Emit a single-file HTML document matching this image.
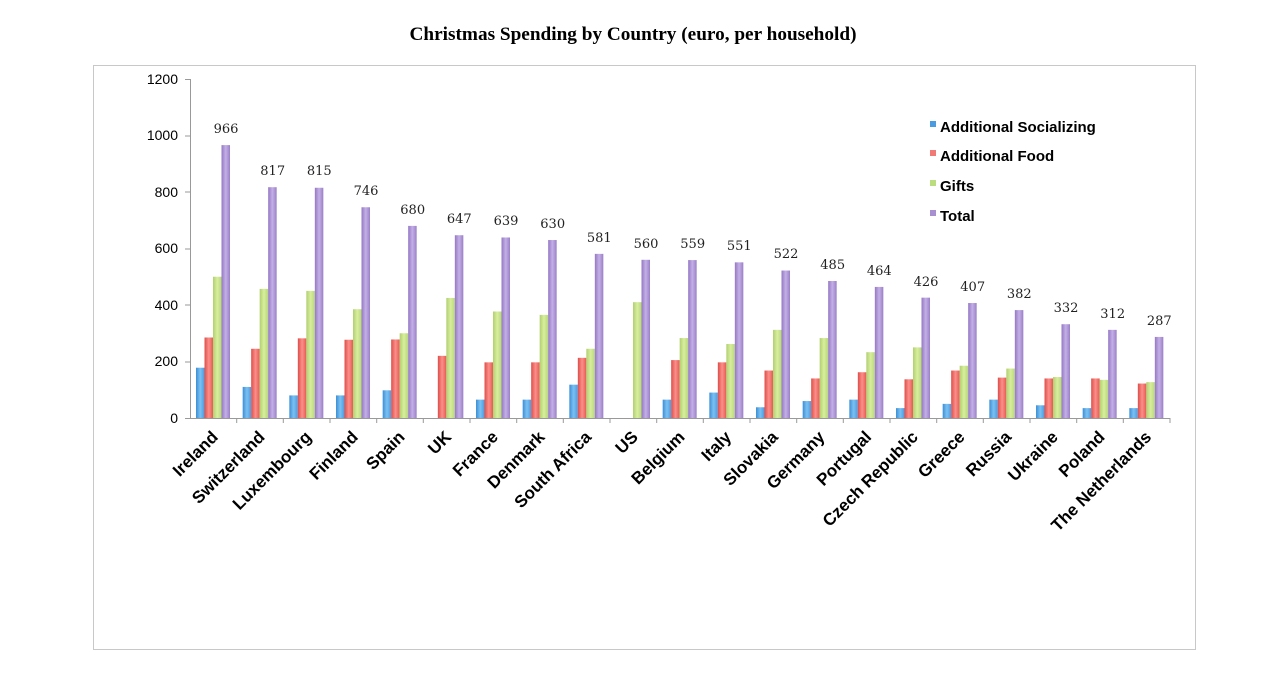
<!DOCTYPE html>
<html><head><meta charset="utf-8"><style>body{margin:0;background:#fff;}svg{display:block}</style></head>
<body>
<svg width="1288" height="675" viewBox="0 0 1288 675" xmlns="http://www.w3.org/2000/svg">
<defs>
<linearGradient id="gb" x1="0" x2="1" y1="0" y2="0"><stop offset="0" stop-color="#3d8fd6"/><stop offset="0.5" stop-color="#7cc0f2"/><stop offset="1" stop-color="#4a9be0"/></linearGradient>
<linearGradient id="gr" x1="0" x2="1" y1="0" y2="0"><stop offset="0" stop-color="#e04c48"/><stop offset="0.5" stop-color="#fa8f8a"/><stop offset="1" stop-color="#e85a55"/></linearGradient>
<linearGradient id="gg" x1="0" x2="1" y1="0" y2="0"><stop offset="0" stop-color="#b0d070"/><stop offset="0.5" stop-color="#d8ee9e"/><stop offset="1" stop-color="#b8d87a"/></linearGradient>
<linearGradient id="gp" x1="0" x2="1" y1="0" y2="0"><stop offset="0" stop-color="#9478c4"/><stop offset="0.5" stop-color="#c4afe6"/><stop offset="1" stop-color="#9a80c8"/></linearGradient>
</defs>
<text x="633" y="40" text-anchor="middle" font-family="Liberation Serif, serif" font-weight="bold" font-size="19" textLength="447" lengthAdjust="spacingAndGlyphs">Christmas Spending by Country (euro, per household)</text>
<rect x="93.5" y="65.5" width="1102" height="584" fill="none" stroke="#c8c8c8"/>
<g font-family="Liberation Sans, sans-serif" font-size="14" text-anchor="end">
<text x="178" y="423">0</text><text x="178" y="366">200</text><text x="178" y="310">400</text><text x="178" y="253">600</text><text x="178" y="197">800</text><text x="178" y="140">1000</text><text x="178" y="84">1200</text>
</g>
<g stroke="#999" stroke-width="1">
<line x1="190.5" y1="79" x2="190.5" y2="418"/>
<line x1="190" y1="418.5" x2="1170" y2="418.5"/>
<line x1="185" y1="418.5" x2="190" y2="418.5"/><line x1="185" y1="362" x2="190" y2="362"/><line x1="185" y1="305" x2="190" y2="305"/><line x1="185" y1="249" x2="190" y2="249"/><line x1="185" y1="192" x2="190" y2="192"/><line x1="185" y1="136" x2="190" y2="136"/><line x1="185" y1="79.5" x2="190" y2="79.5"/>
<line x1="236.7" y1="418" x2="236.7" y2="423"/><line x1="283.3" y1="418" x2="283.3" y2="423"/><line x1="330" y1="418" x2="330" y2="423"/><line x1="376.7" y1="418" x2="376.7" y2="423"/><line x1="423.3" y1="418" x2="423.3" y2="423"/><line x1="470" y1="418" x2="470" y2="423"/><line x1="516.7" y1="418" x2="516.7" y2="423"/><line x1="563.3" y1="418" x2="563.3" y2="423"/><line x1="610" y1="418" x2="610" y2="423"/><line x1="656.7" y1="418" x2="656.7" y2="423"/><line x1="703.3" y1="418" x2="703.3" y2="423"/><line x1="750" y1="418" x2="750" y2="423"/><line x1="796.7" y1="418" x2="796.7" y2="423"/><line x1="843.3" y1="418" x2="843.3" y2="423"/><line x1="890" y1="418" x2="890" y2="423"/><line x1="936.7" y1="418" x2="936.7" y2="423"/><line x1="983.3" y1="418" x2="983.3" y2="423"/><line x1="1030" y1="418" x2="1030" y2="423"/><line x1="1076.7" y1="418" x2="1076.7" y2="423"/><line x1="1123.3" y1="418" x2="1123.3" y2="423"/><line x1="1170" y1="418" x2="1170" y2="423"/>
</g>
<g transform="translate(190,418) scale(1,-0.2825)"><rect x="6" width="8.5" height="178" fill="url(#gb)"/><rect x="14.5" width="8.5" height="285" fill="url(#gr)"/><rect x="23" width="8.5" height="500" fill="url(#gg)"/><rect x="31.5" width="8.5" height="966" fill="url(#gp)"/></g>
<g transform="translate(236.67,418) scale(1,-0.2825)"><rect x="6" width="8.5" height="110" fill="url(#gb)"/><rect x="14.5" width="8.5" height="245" fill="url(#gr)"/><rect x="23" width="8.5" height="457" fill="url(#gg)"/><rect x="31.5" width="8.5" height="817" fill="url(#gp)"/></g>
<g transform="translate(283.33,418) scale(1,-0.2825)"><rect x="6" width="8.5" height="80" fill="url(#gb)"/><rect x="14.5" width="8.5" height="282" fill="url(#gr)"/><rect x="23" width="8.5" height="450" fill="url(#gg)"/><rect x="31.5" width="8.5" height="815" fill="url(#gp)"/></g>
<g transform="translate(330,418) scale(1,-0.2825)"><rect x="6" width="8.5" height="80" fill="url(#gb)"/><rect x="14.5" width="8.5" height="277" fill="url(#gr)"/><rect x="23" width="8.5" height="385" fill="url(#gg)"/><rect x="31.5" width="8.5" height="746" fill="url(#gp)"/></g>
<g transform="translate(376.67,418) scale(1,-0.2825)"><rect x="6" width="8.5" height="98" fill="url(#gb)"/><rect x="14.5" width="8.5" height="278" fill="url(#gr)"/><rect x="23" width="8.5" height="300" fill="url(#gg)"/><rect x="31.5" width="8.5" height="680" fill="url(#gp)"/></g>
<g transform="translate(423.33,418) scale(1,-0.2825)"><rect x="14.5" width="8.5" height="220" fill="url(#gr)"/><rect x="23" width="8.5" height="425" fill="url(#gg)"/><rect x="31.5" width="8.5" height="647" fill="url(#gp)"/></g>
<g transform="translate(470,418) scale(1,-0.2825)"><rect x="6" width="8.5" height="65" fill="url(#gb)"/><rect x="14.5" width="8.5" height="197" fill="url(#gr)"/><rect x="23" width="8.5" height="377" fill="url(#gg)"/><rect x="31.5" width="8.5" height="639" fill="url(#gp)"/></g>
<g transform="translate(516.67,418) scale(1,-0.2825)"><rect x="6" width="8.5" height="65" fill="url(#gb)"/><rect x="14.5" width="8.5" height="197" fill="url(#gr)"/><rect x="23" width="8.5" height="365" fill="url(#gg)"/><rect x="31.5" width="8.5" height="630" fill="url(#gp)"/></g>
<g transform="translate(563.33,418) scale(1,-0.2825)"><rect x="6" width="8.5" height="118" fill="url(#gb)"/><rect x="14.5" width="8.5" height="213" fill="url(#gr)"/><rect x="23" width="8.5" height="245" fill="url(#gg)"/><rect x="31.5" width="8.5" height="581" fill="url(#gp)"/></g>
<g transform="translate(610,418) scale(1,-0.2825)"><rect x="23" width="8.5" height="410" fill="url(#gg)"/><rect x="31.5" width="8.5" height="560" fill="url(#gp)"/></g>
<g transform="translate(656.67,418) scale(1,-0.2825)"><rect x="6" width="8.5" height="65" fill="url(#gb)"/><rect x="14.5" width="8.5" height="205" fill="url(#gr)"/><rect x="23" width="8.5" height="283" fill="url(#gg)"/><rect x="31.5" width="8.5" height="559" fill="url(#gp)"/></g>
<g transform="translate(703.33,418) scale(1,-0.2825)"><rect x="6" width="8.5" height="90" fill="url(#gb)"/><rect x="14.5" width="8.5" height="197" fill="url(#gr)"/><rect x="23" width="8.5" height="262" fill="url(#gg)"/><rect x="31.5" width="8.5" height="551" fill="url(#gp)"/></g>
<g transform="translate(750,418) scale(1,-0.2825)"><rect x="6" width="8.5" height="38" fill="url(#gb)"/><rect x="14.5" width="8.5" height="168" fill="url(#gr)"/><rect x="23" width="8.5" height="312" fill="url(#gg)"/><rect x="31.5" width="8.5" height="522" fill="url(#gp)"/></g>
<g transform="translate(796.67,418) scale(1,-0.2825)"><rect x="6" width="8.5" height="60" fill="url(#gb)"/><rect x="14.5" width="8.5" height="140" fill="url(#gr)"/><rect x="23" width="8.5" height="283" fill="url(#gg)"/><rect x="31.5" width="8.5" height="485" fill="url(#gp)"/></g>
<g transform="translate(843.33,418) scale(1,-0.2825)"><rect x="6" width="8.5" height="65" fill="url(#gb)"/><rect x="14.5" width="8.5" height="162" fill="url(#gr)"/><rect x="23" width="8.5" height="233" fill="url(#gg)"/><rect x="31.5" width="8.5" height="464" fill="url(#gp)"/></g>
<g transform="translate(890,418) scale(1,-0.2825)"><rect x="6" width="8.5" height="35" fill="url(#gb)"/><rect x="14.5" width="8.5" height="137" fill="url(#gr)"/><rect x="23" width="8.5" height="250" fill="url(#gg)"/><rect x="31.5" width="8.5" height="426" fill="url(#gp)"/></g>
<g transform="translate(936.67,418) scale(1,-0.2825)"><rect x="6" width="8.5" height="50" fill="url(#gb)"/><rect x="14.5" width="8.5" height="168" fill="url(#gr)"/><rect x="23" width="8.5" height="185" fill="url(#gg)"/><rect x="31.5" width="8.5" height="407" fill="url(#gp)"/></g>
<g transform="translate(983.33,418) scale(1,-0.2825)"><rect x="6" width="8.5" height="65" fill="url(#gb)"/><rect x="14.5" width="8.5" height="143" fill="url(#gr)"/><rect x="23" width="8.5" height="175" fill="url(#gg)"/><rect x="31.5" width="8.5" height="382" fill="url(#gp)"/></g>
<g transform="translate(1030,418) scale(1,-0.2825)"><rect x="6" width="8.5" height="45" fill="url(#gb)"/><rect x="14.5" width="8.5" height="140" fill="url(#gr)"/><rect x="23" width="8.5" height="145" fill="url(#gg)"/><rect x="31.5" width="8.5" height="332" fill="url(#gp)"/></g>
<g transform="translate(1076.67,418) scale(1,-0.2825)"><rect x="6" width="8.5" height="35" fill="url(#gb)"/><rect x="14.5" width="8.5" height="140" fill="url(#gr)"/><rect x="23" width="8.5" height="135" fill="url(#gg)"/><rect x="31.5" width="8.5" height="312" fill="url(#gp)"/></g>
<g transform="translate(1123.33,418) scale(1,-0.2825)"><rect x="6" width="8.5" height="35" fill="url(#gb)"/><rect x="14.5" width="8.5" height="122" fill="url(#gr)"/><rect x="23" width="8.5" height="127" fill="url(#gg)"/><rect x="31.5" width="8.5" height="287" fill="url(#gp)"/></g>
<g font-family="DejaVu Serif, Liberation Serif, serif" font-size="13" text-anchor="middle" fill="#222">
<text x="226" y="133">966</text><text x="272.7" y="175">817</text><text x="319.3" y="175">815</text><text x="366" y="195">746</text><text x="412.7" y="214">680</text><text x="459.3" y="223">647</text><text x="506" y="225">639</text><text x="552.7" y="228">630</text><text x="599.3" y="242">581</text><text x="646" y="248">560</text><text x="692.7" y="248">559</text><text x="739.3" y="250">551</text><text x="786" y="258">522</text><text x="832.7" y="269">485</text><text x="879.3" y="275">464</text><text x="926" y="286">426</text><text x="972.7" y="291">407</text><text x="1019.3" y="298">382</text><text x="1066" y="312">332</text><text x="1112.7" y="318">312</text><text x="1159.3" y="325">287</text>
</g>
<g font-family="Liberation Sans, sans-serif" font-size="17" font-weight="bold" text-anchor="end">
<text transform="translate(219,438) rotate(-45)">Ireland</text>
<text transform="translate(265.7,438) rotate(-45)">Switzerland</text>
<text transform="translate(312.3,438) rotate(-45)">Luxembourg</text>
<text transform="translate(359,438) rotate(-45)">Finland</text>
<text transform="translate(405.7,438) rotate(-45)">Spain</text>
<text transform="translate(452.3,438) rotate(-45)">UK</text>
<text transform="translate(499,438) rotate(-45)">France</text>
<text transform="translate(545.7,438) rotate(-45)">Denmark</text>
<text transform="translate(592.3,438) rotate(-45)">South Africa</text>
<text transform="translate(639,438) rotate(-45)">US</text>
<text transform="translate(685.7,438) rotate(-45)">Belgium</text>
<text transform="translate(732.3,438) rotate(-45)">Italy</text>
<text transform="translate(779,438) rotate(-45)">Slovakia</text>
<text transform="translate(825.7,438) rotate(-45)">Germany</text>
<text transform="translate(872.3,438) rotate(-45)">Portugal</text>
<text transform="translate(919,438) rotate(-45)">Czech Republic</text>
<text transform="translate(965.7,438) rotate(-45)">Greece</text>
<text transform="translate(1012.3,438) rotate(-45)">Russia</text>
<text transform="translate(1059,438) rotate(-45)">Ukraine</text>
<text transform="translate(1105.7,438) rotate(-45)">Poland</text>
<text transform="translate(1152.3,438) rotate(-45)">The Netherlands</text>
</g>
<g font-family="Liberation Sans, sans-serif" font-size="15" font-weight="bold">
<rect x="930" y="121" width="6" height="6" fill="#4a9be0"/><text x="940" y="132">Additional Socializing</text>
<rect x="930" y="150" width="6" height="6" fill="#f07a75"/><text x="940" y="161">Additional Food</text>
<rect x="930" y="180" width="6" height="6" fill="#bcdc80"/><text x="940" y="191">Gifts</text>
<rect x="930" y="210" width="6" height="6" fill="#a88fd0"/><text x="940" y="221">Total</text>
</g>
</svg>
</body></html>
